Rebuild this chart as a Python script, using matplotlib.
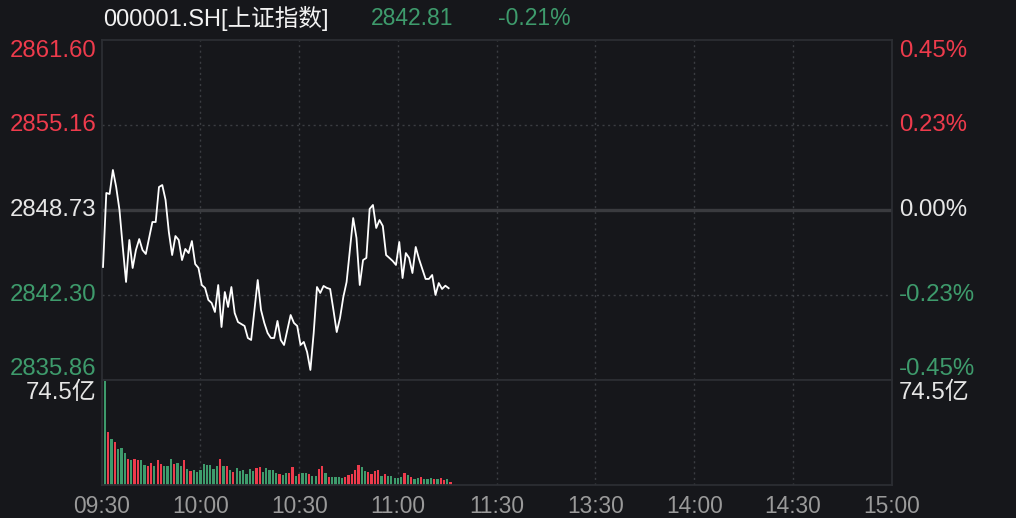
import matplotlib
matplotlib.use("Agg")
import matplotlib.pyplot as plt
import matplotlib.transforms as mtransforms
import numpy as np

# ---- data ----
code_name = "000001.SH[上证指数]"
last_price = "2842.81"
last_change = "-0.21%"

prev_close = 2848.73
price_levels = [2861.60, 2855.16, 2848.73, 2842.30, 2835.86]
pct_labels = ["0.45%", "0.23%", "0.00%", "-0.23%", "-0.45%"]
vol_max_label = "74.5亿"
vol_max = 74.5

time_labels = ["09:30", "10:00", "10:30", "11:00", "11:30", "13:30", "14:00", "14:30", "15:00"]

# one value per minute from 09:30
price = [
    2844.42, 2850.02, 2849.94, 2851.76, 2850.47, 2848.73, 2845.93, 2843.28, 2846.46, 2844.34,
    2845.70, 2846.53, 2845.70, 2845.40, 2846.61, 2847.82, 2847.82, 2850.47, 2850.62, 2849.49,
    2847.06, 2845.32, 2846.76, 2846.46, 2844.94, 2845.78, 2845.47, 2846.38, 2844.64, 2844.34,
    2843.05, 2842.83, 2841.92, 2841.69, 2841.01, 2843.05, 2839.87, 2842.52, 2841.39, 2842.90,
    2840.93, 2840.25, 2840.10, 2839.95, 2839.04, 2838.89, 2841.16, 2843.43, 2841.16, 2840.18,
    2839.42, 2839.04, 2839.04, 2840.33, 2838.89, 2838.51, 2839.65, 2840.78, 2840.18, 2839.95,
    2838.51, 2838.74, 2837.98, 2836.62, 2839.42, 2842.90, 2842.45, 2842.98, 2842.83, 2842.75,
    2841.16, 2839.49, 2840.55, 2842.14, 2843.28, 2845.70, 2848.12, 2846.61, 2843.05, 2844.94,
    2845.10, 2848.81, 2849.11, 2847.37, 2847.97, 2847.52, 2845.32, 2845.10, 2844.87, 2844.57,
    2846.31, 2843.58, 2845.47, 2845.10, 2843.96, 2845.93, 2845.02, 2844.26, 2843.51, 2843.51,
    2843.81, 2842.30, 2843.20, 2842.75, 2843.00, 2842.81,
]

# volume (亿) and whether the minute closed up (1) or down (0)
volume = [
    74.0, 37.8, 32.6, 30.6, 25.3, 26.3, 22.4, 18.8, 17.4, 18.1,
    17.4, 17.4, 14.5, 13.7, 15.7, 13.7, 17.4, 15.2, 13.7, 13.7,
    18.1, 15.2, 15.7, 13.3, 17.4, 11.6, 10.1, 10.9, 9.4, 10.9,
    15.2, 14.5, 14.5, 11.6, 13.7, 18.8, 13.7, 13.7, 10.9, 9.4,
    12.3, 10.1, 10.9, 8.0, 11.6, 10.1, 12.3, 13.0, 9.4, 12.3,
    10.9, 10.9, 8.7, 8.0, 7.2, 8.7, 8.7, 13.0, 6.5, 8.0,
    8.7, 8.7, 8.0, 6.5, 6.5, 11.6, 13.7, 8.7, 5.8, 5.8,
    5.8, 5.8, 5.1, 5.8, 7.2, 8.0, 10.9, 14.5, 13.0, 10.1,
    9.4, 8.0, 10.1, 10.9, 6.5, 8.0, 6.5, 6.5, 5.1, 5.1,
    5.8, 8.7, 7.2, 5.8, 4.3, 5.1, 5.8, 4.3, 4.3, 5.1,
    4.3, 4.3, 5.1, 3.6, 4.3, 2.2,
]
up = [
    0, 1, 0, 1, 0, 0, 0, 1, 0, 1,
    1, 0, 0, 1, 1, 0, 1, 1, 0, 0,
    0, 1, 0, 0, 1, 0, 1, 0, 0, 0,
    0, 0, 0, 0, 0, 1, 0, 1, 0, 1,
    0, 0, 0, 0, 0, 0, 1, 1, 0, 0,
    0, 0, 0, 1, 0, 0, 1, 1, 0, 1,
    0, 0, 1, 0, 0, 1, 1, 0, 1, 0,
    0, 0, 0, 1, 1, 1, 1, 1, 0, 0,
    1, 1, 1, 1, 0, 1, 0, 0, 0, 0,
    0, 1, 0, 1, 0, 0, 1, 0, 0, 0,
    1, 0, 1, 1, 0, 1,
]

# ---- style ----
BG = "#16171b"
FRAME = "#2c2e33"
GRID = "#3b3d42"
RED = "#ee3b4c"
GREEN = "#3e9b6c"
WHITE = "#e6e6e6"
GREY = "#9a9a9a"
FONT = ["Liberation Sans", "Noto Sans CJK SC"]
plt.rcParams["font.family"] = FONT

W, H = 1016, 518
fig = plt.figure(figsize=(W / 100, H / 100), dpi=100, facecolor=BG)

left, right = 101.7 / W, 891.7 / W
ax = fig.add_axes([left, 1 - 380 / H, right - left, 340 / H], facecolor=BG)
axv = fig.add_axes([left, 1 - 485 / H, right - left, 105 / H], facecolor=BG, sharex=ax)

total_min = 240
tick_pos = np.arange(0, total_min + 1, 30)

for a in (ax, axv):
    for s in a.spines.values():
        s.set_color(FRAME)
        s.set_linewidth(1.3)
    a.set_xlim(0, total_min)
    for t in tick_pos[1:-1]:
        a.axvline(t, color=GRID, lw=1.0, ls=(0, (1.5, 2.5)), zorder=0)
    a.tick_params(left=False, right=False, labelleft=False, bottom=False, labelbottom=False)

# price panel
ax.set_ylim(price_levels[-1], price_levels[0])
for lvl in (price_levels[1], price_levels[3]):
    ax.axhline(lvl, color=GRID, lw=1.0, ls=(0, (1.5, 2.5)), zorder=0)
ax.axhline(prev_close, color="#3a3b3f", lw=2.4, zorder=1)

x_line = np.arange(len(price)) + 0.4
ax.plot(x_line, price, color="white", lw=1.3, zorder=3)

ytrans = mtransforms.blended_transform_factory(ax.transAxes, ax.transData)
label_colors = [RED, RED, WHITE, GREEN, GREEN]
vas = ["top", "center", "center", "center", "bottom"]
for lvl, pct, c, va in zip(price_levels, pct_labels, label_colors, vas):
    ax.text(-0.0072, lvl, f"{lvl:.2f}", transform=ytrans, ha="right", va=va,
            color=c, fontsize=17.3, clip_on=False)
    ax.text(1.0092, lvl, pct, transform=ytrans, ha="left", va=va,
            color=c, fontsize=17.3, clip_on=False)

# volume panel
axv.set_ylim(0, vol_max)
x_bar = np.arange(len(volume)) + 1
bar_colors = [RED if u else GREEN for u in up]
axv.bar(x_bar, volume, width=0.68, color=bar_colors, linewidth=0, zorder=2)
axv.text(-0.0072, 0.985, vol_max_label, transform=axv.transAxes, ha="right", va="top",
         color=WHITE, fontsize=17.3)
axv.text(1.0092, 0.985, vol_max_label, transform=axv.transAxes, ha="left", va="top",
         color=WHITE, fontsize=17.3)

axv.set_xticks(tick_pos)
axv.set_xticklabels(time_labels)
axv.tick_params(bottom=False, labelbottom=True, labelcolor=GREY, labelsize=16.4, pad=4)

# header
hy = 1 - 18.5 / H
fig.text(103 / W, hy, code_name, ha="left", va="center", color="#f2f2f2", fontsize=17)
fig.text(371 / W, hy, last_price, ha="left", va="center", color=GREEN, fontsize=16.5)
fig.text(498 / W, hy, last_change, ha="left", va="center", color=GREEN, fontsize=16.5)

fig.savefig("out.png", dpi=100, facecolor=BG)
